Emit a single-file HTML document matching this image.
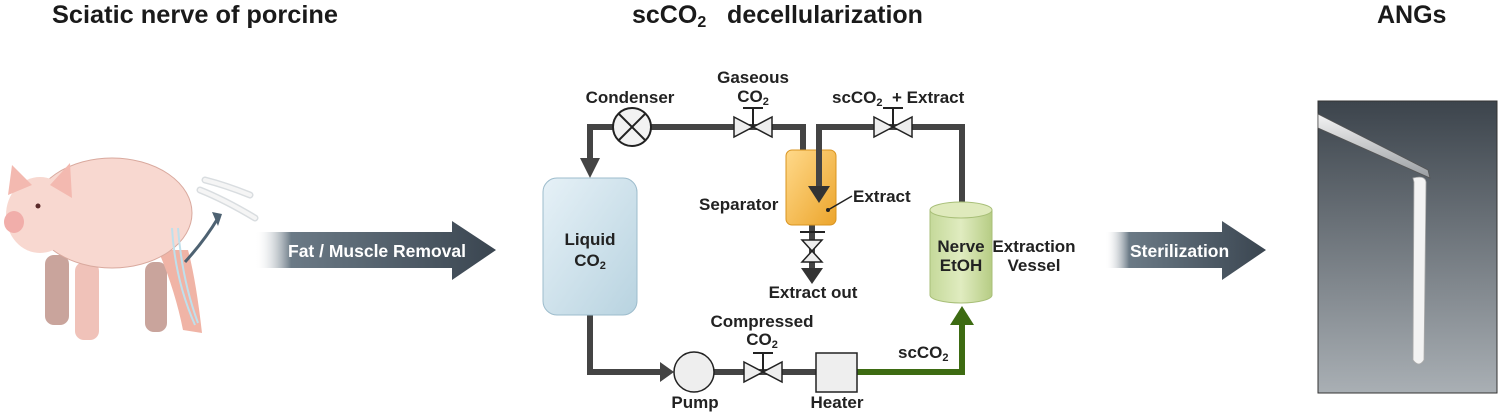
<!DOCTYPE html>
<html><head><meta charset="utf-8"><style>
body{margin:0;width:1499px;height:414px;background:#fff;overflow:hidden;font-family:"Liberation Sans",Arial,sans-serif}
</style></head><body>
<svg width="1499" height="414" viewBox="0 0 1499 414" xmlns="http://www.w3.org/2000/svg" font-family="Liberation Sans, Arial, sans-serif" font-weight="bold">
<defs>
<linearGradient id="ar" x1="0" x2="1"><stop offset="0" stop-color="#fff" stop-opacity="0"/><stop offset="0.15" stop-color="#6b7a86"/><stop offset="1" stop-color="#3a4550"/></linearGradient>
<linearGradient id="bx" x1="0" y1="0" x2="0" y2="1"><stop offset="0" stop-color="#3c444c"/><stop offset="1" stop-color="#a9afb4"/></linearGradient>
<linearGradient id="lq" x1="0" y1="0" x2="1" y2="1"><stop offset="0" stop-color="#e6f1f7"/><stop offset="1" stop-color="#b8d3e0"/></linearGradient>
<linearGradient id="sp" x1="0" y1="0" x2="1" y2="1"><stop offset="0" stop-color="#ffd98a"/><stop offset="1" stop-color="#eca52c"/></linearGradient>
<linearGradient id="ve" x1="0" x2="1"><stop offset="0" stop-color="#c5d99a"/><stop offset="0.5" stop-color="#e0ecc0"/><stop offset="1" stop-color="#b6cc84"/></linearGradient>
<linearGradient id="fc" x1="0" y1="0" x2="0" y2="1"><stop offset="0" stop-color="#f4f4f4"/><stop offset="1" stop-color="#9a9ea2"/></linearGradient>
</defs>
<text x="52" y="23" font-size="25" fill="#1a1a1a" textLength="286" lengthAdjust="spacingAndGlyphs">Sciatic nerve of porcine</text>
<text x="632" y="23" font-size="25" fill="#1a1a1a">scCO<tspan font-size="16" dy="4">2</tspan><tspan dy="-4" xml:space="preserve">   decellularization</tspan></text>
<text x="1377" y="23" font-size="25" fill="#1a1a1a">ANGs</text>

<!-- pig -->
<g>
<rect x="45" y="255" width="24" height="70" rx="9" fill="#c9a49c"/>
<rect x="75" y="262" width="24" height="78" rx="9" fill="#f0c2b9"/>
<rect x="145" y="262" width="22" height="70" rx="9" fill="#c9a49c"/>
<path d="M158 250 Q175 290 183 330 L202 333 Q196 280 188 250Z" fill="#f0b4a6"/>
<ellipse cx="112" cy="213" rx="80" ry="55" fill="#f8d8d0" stroke="#d9a99e"/>
<ellipse cx="40" cy="215" rx="34" ry="38" fill="#f8d8d0"/>
<path d="M8 195 L12 165 L32 185Z M50 185 L70 163 L72 198Z" fill="#f3b9b0"/>
<ellipse cx="14" cy="222" rx="10" ry="11" fill="#f1aeaa"/>
<circle cx="38" cy="206" r="2.5" fill="#5a2a2a"/>
<path d="M172 228 Q175 280 195 325 M178 228 Q182 280 198 323" stroke="#bfe0ec" stroke-width="2" fill="none"/>
<path d="M185 262 Q205 240 218 218" stroke="#4e6272" stroke-width="3" fill="none"/>
<path d="M212 212 L222 214 L218 226Z" fill="#4e6272"/>
<path d="M205 180 Q225 185 250 195 M200 190 Q225 200 255 218" stroke="#d9dde0" stroke-width="7" fill="none" stroke-linecap="round"/>
<path d="M205 180 Q225 185 250 195 M200 190 Q225 200 255 218" stroke="#f5f5f5" stroke-width="4" fill="none" stroke-linecap="round"/>
</g>

<!-- arrows -->
<path d="M255 232 H452 V221 L496 250 L452 280 V268 H255Z" fill="url(#ar)"/>
<text x="288" y="257" font-size="17.5" fill="#fff">Fat / Muscle Removal</text>
<path d="M1105 232 H1222 V221 L1266 250 L1222 280 V268 H1105Z" fill="url(#ar)"/>
<text x="1130" y="257" font-size="17.5" fill="#fff">Sterilization</text>

<!-- right box -->
<rect x="1318" y="101" width="179" height="292" fill="url(#bx)" stroke="#333"/>
<path d="M1318 114 L1428 170 L1430 178 L1318 128Z" fill="url(#fc)" stroke="#555" stroke-width="0.8"/>
<path d="M1413 178 Q1425 175 1426 182 L1424 360 Q1419 368 1413 360 L1414 182Z" fill="#f3f3f3" stroke="#aaa" stroke-width="0.8"/>

<!-- pipes -->
<g stroke="#444" stroke-width="6" fill="none">
<path d="M590 168 V127 H803 V150"/>
<path d="M819 185 V127 H962 V202"/>
<path d="M590 315 V372 H660"/>
<path d="M714 372 H816"/>
<path d="M812 225 V275"/>
</g>
<path d="M857 372 H962 V325" stroke="#3d6b12" stroke-width="6" fill="none"/>
<path d="M950 325 L962 306 L974 325Z" fill="#3d6b12"/>
<path d="M580 158 L600 158 L590 178Z" fill="#444"/>
<path d="M660 362 L674 372 L660 382Z" fill="#444"/>
<!-- liquid tank -->
<rect x="543" y="178" width="94" height="137" rx="14" fill="url(#lq)" stroke="#9dbccc"/>
<text x="590" y="245" font-size="17" text-anchor="middle" fill="#222">Liquid</text>
<text x="590" y="266" font-size="17" text-anchor="middle" fill="#222">CO<tspan font-size="11" dy="3">2</tspan></text>
<!-- condenser -->
<circle cx="632" cy="127" r="19" fill="#f2f2f2" stroke="#222" stroke-width="2"/>
<path d="M619 114 L645 140 M645 114 L619 140" stroke="#222" stroke-width="2"/>
<text x="630" y="103" font-size="17" text-anchor="middle" fill="#222">Condenser</text>
<!-- valves -->
<g fill="#eee" stroke="#222" stroke-width="1.5">
<path d="M734 117 L772 137 V117 L734 137Z"/>
<path d="M874 117 L912 137 V117 L874 137Z"/>
<path d="M744 362 L782 382 V362 L744 382Z"/>
<path d="M802 240 L822 262 H802 L822 240Z"/>
</g>
<g stroke="#222" stroke-width="2"><path d="M753 127 V108 M743 108 H763 M893 127 V108 M883 108 H903 M763 372 V353 M753 353 H773 M800 232 H825"/></g>
<text x="753" y="83" font-size="17" text-anchor="middle" fill="#222">Gaseous</text>
<text x="753" y="102" font-size="17" text-anchor="middle" fill="#222">CO<tspan font-size="11" dy="3">2</tspan></text>
<text x="832" y="103" font-size="17" fill="#222">scCO<tspan font-size="11" dy="3">2</tspan><tspan dy="-3" xml:space="preserve">  + Extract</tspan></text>
<!-- separator -->
<rect x="786" y="150" width="50" height="75" rx="6" fill="url(#sp)" stroke="#d99420"/>
<path d="M819 127 V190" stroke="#444" stroke-width="6"/>
<path d="M808 186 L830 186 L819 203Z" fill="#333"/>
<path d="M828 210 L852 196" stroke="#222" stroke-width="1.5"/><circle cx="828" cy="210" r="2" fill="#222"/>
<text x="853" y="202" font-size="17" fill="#222">Extract</text>
<text x="699" y="210" font-size="17" fill="#222">Separator</text>
<path d="M801 268 L823 268 L812 284Z" fill="#333"/>
<text x="813" y="298" font-size="17" text-anchor="middle" fill="#222">Extract out</text>
<!-- vessel -->
<path d="M930 210 V295 A31 8 0 0 0 992 295 V210Z" fill="url(#ve)" stroke="#a8bf78"/>
<ellipse cx="961" cy="210" rx="31" ry="8" fill="#dfeabc" stroke="#a8bf78"/>
<text x="961" y="252" font-size="17" text-anchor="middle" fill="#222">Nerve</text>
<text x="961" y="271" font-size="17" text-anchor="middle" fill="#222">EtOH</text>
<text x="1034" y="252" font-size="17" text-anchor="middle" fill="#222">Extraction</text>
<text x="1034" y="271" font-size="17" text-anchor="middle" fill="#222">Vessel</text>
<!-- pump, heater -->
<circle cx="694" cy="372" r="20" fill="#eee" stroke="#222" stroke-width="1.5"/>
<text x="695" y="408" font-size="17" text-anchor="middle" fill="#222">Pump</text>
<rect x="816" y="353" width="41" height="39" fill="#eee" stroke="#222" stroke-width="1.5"/>
<text x="837" y="408" font-size="17" text-anchor="middle" fill="#222">Heater</text>
<text x="762" y="327" font-size="17" text-anchor="middle" fill="#222">Compressed</text>
<text x="762" y="345" font-size="17" text-anchor="middle" fill="#222">CO<tspan font-size="11" dy="3">2</tspan></text>
<text x="898" y="358" font-size="17" fill="#222">scCO<tspan font-size="11" dy="3">2</tspan></text>
</svg>
</body></html>
